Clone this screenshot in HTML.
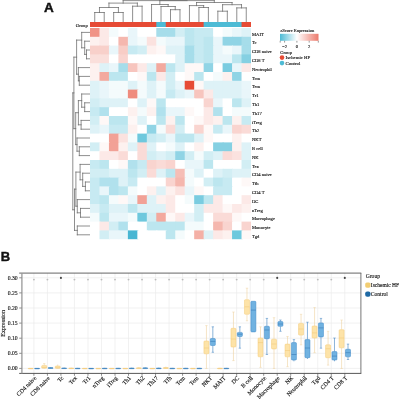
<!DOCTYPE html><html><head><meta charset="utf-8"><style>html,body{margin:0;padding:0;background:#fff;width:400px;height:399px;overflow:hidden}svg{display:block;filter:blur(0.5px)}text{font-family:"Liberation Serif",serif;fill:#111;stroke:#111;stroke-width:0.12px}.sans{font-family:"Liberation Sans",sans-serif}</style></head><body>
<svg width="400" height="399" viewBox="0 0 400 399">
<rect x="0" y="0" width="400" height="399" fill="#fff"/>
<text class="sans" x="44" y="12" font-size="13.5" font-weight="bold" style="stroke-width:0.45px">A</text>
<text class="sans" x="0.8" y="260.8" font-size="13" font-weight="bold" style="stroke-width:0.45px">B</text>
<rect x="90.00" y="28.00" width="10.47" height="9.80" fill="#f09386"/>
<rect x="99.47" y="28.00" width="10.47" height="9.80" fill="#fce9e7"/>
<rect x="108.94" y="28.00" width="10.47" height="9.80" fill="#f4fbfc"/>
<rect x="118.41" y="28.00" width="10.47" height="9.80" fill="#ffffff"/>
<rect x="127.88" y="28.00" width="10.47" height="9.80" fill="#e9f6fa"/>
<rect x="137.35" y="28.00" width="10.47" height="9.80" fill="#ffffff"/>
<rect x="146.82" y="28.00" width="10.47" height="9.80" fill="#ffffff"/>
<rect x="156.29" y="28.00" width="10.47" height="9.80" fill="#a6ddea"/>
<rect x="165.76" y="28.00" width="10.47" height="9.80" fill="#a6ddea"/>
<rect x="175.24" y="28.00" width="10.47" height="9.80" fill="#d2eef4"/>
<rect x="184.71" y="28.00" width="10.47" height="9.80" fill="#bce6ef"/>
<rect x="194.18" y="28.00" width="10.47" height="9.80" fill="#c7eaf2"/>
<rect x="203.65" y="28.00" width="10.47" height="9.80" fill="#c7eaf2"/>
<rect x="213.12" y="28.00" width="10.47" height="9.80" fill="#ffffff"/>
<rect x="222.59" y="28.00" width="10.47" height="9.80" fill="#f4fbfc"/>
<rect x="232.06" y="28.00" width="10.47" height="9.80" fill="#e9f6fa"/>
<rect x="241.53" y="28.00" width="9.47" height="9.80" fill="#def2f7"/>
<rect x="90.00" y="36.80" width="10.47" height="9.80" fill="#fdf1ef"/>
<rect x="99.47" y="36.80" width="10.47" height="9.80" fill="#fce9e7"/>
<rect x="108.94" y="36.80" width="10.47" height="9.80" fill="#ffffff"/>
<rect x="118.41" y="36.80" width="10.47" height="9.80" fill="#f5b7ae"/>
<rect x="127.88" y="36.80" width="10.47" height="9.80" fill="#e9f6fa"/>
<rect x="137.35" y="36.80" width="10.47" height="9.80" fill="#f4fbfc"/>
<rect x="146.82" y="36.80" width="10.47" height="9.80" fill="#fbe2df"/>
<rect x="156.29" y="36.80" width="10.47" height="9.80" fill="#f4fbfc"/>
<rect x="165.76" y="36.80" width="10.47" height="9.80" fill="#e9f6fa"/>
<rect x="175.24" y="36.80" width="10.47" height="9.80" fill="#e9f6fa"/>
<rect x="184.71" y="36.80" width="10.47" height="9.80" fill="#bce6ef"/>
<rect x="194.18" y="36.80" width="10.47" height="9.80" fill="#c7eaf2"/>
<rect x="203.65" y="36.80" width="10.47" height="9.80" fill="#bce6ef"/>
<rect x="213.12" y="36.80" width="10.47" height="9.80" fill="#e9f6fa"/>
<rect x="222.59" y="36.80" width="10.47" height="9.80" fill="#90d4e5"/>
<rect x="232.06" y="36.80" width="10.47" height="9.80" fill="#90d4e5"/>
<rect x="241.53" y="36.80" width="9.47" height="9.80" fill="#a6ddea"/>
<rect x="90.00" y="45.60" width="10.47" height="9.80" fill="#f8d0ca"/>
<rect x="99.47" y="45.60" width="10.47" height="9.80" fill="#f8d0ca"/>
<rect x="108.94" y="45.60" width="10.47" height="9.80" fill="#e9f6fa"/>
<rect x="118.41" y="45.60" width="10.47" height="9.80" fill="#f8cdc6"/>
<rect x="127.88" y="45.60" width="10.47" height="9.80" fill="#c7eaf2"/>
<rect x="137.35" y="45.60" width="10.47" height="9.80" fill="#d2eef4"/>
<rect x="146.82" y="45.60" width="10.47" height="9.80" fill="#fdf1ef"/>
<rect x="156.29" y="45.60" width="10.47" height="9.80" fill="#fef8f7"/>
<rect x="165.76" y="45.60" width="10.47" height="9.80" fill="#def2f7"/>
<rect x="175.24" y="45.60" width="10.47" height="9.80" fill="#def2f7"/>
<rect x="184.71" y="45.60" width="10.47" height="9.80" fill="#a6ddea"/>
<rect x="194.18" y="45.60" width="10.47" height="9.80" fill="#c7eaf2"/>
<rect x="203.65" y="45.60" width="10.47" height="9.80" fill="#bce6ef"/>
<rect x="213.12" y="45.60" width="10.47" height="9.80" fill="#e9f6fa"/>
<rect x="222.59" y="45.60" width="10.47" height="9.80" fill="#f4fbfc"/>
<rect x="232.06" y="45.60" width="10.47" height="9.80" fill="#e9f6fa"/>
<rect x="241.53" y="45.60" width="9.47" height="9.80" fill="#a6ddea"/>
<rect x="90.00" y="54.40" width="10.47" height="9.80" fill="#fadfdb"/>
<rect x="99.47" y="54.40" width="10.47" height="9.80" fill="#fadfdb"/>
<rect x="108.94" y="54.40" width="10.47" height="9.80" fill="#ffffff"/>
<rect x="118.41" y="54.40" width="10.47" height="9.80" fill="#f9d4cf"/>
<rect x="127.88" y="54.40" width="10.47" height="9.80" fill="#ffffff"/>
<rect x="137.35" y="54.40" width="10.47" height="9.80" fill="#ffffff"/>
<rect x="146.82" y="54.40" width="10.47" height="9.80" fill="#ffffff"/>
<rect x="156.29" y="54.40" width="10.47" height="9.80" fill="#ffffff"/>
<rect x="165.76" y="54.40" width="10.47" height="9.80" fill="#ffffff"/>
<rect x="175.24" y="54.40" width="10.47" height="9.80" fill="#def2f7"/>
<rect x="184.71" y="54.40" width="10.47" height="9.80" fill="#a6ddea"/>
<rect x="194.18" y="54.40" width="10.47" height="9.80" fill="#c7eaf2"/>
<rect x="203.65" y="54.40" width="10.47" height="9.80" fill="#bce6ef"/>
<rect x="213.12" y="54.40" width="10.47" height="9.80" fill="#e9f6fa"/>
<rect x="222.59" y="54.40" width="10.47" height="9.80" fill="#e9f6fa"/>
<rect x="232.06" y="54.40" width="10.47" height="9.80" fill="#bce6ef"/>
<rect x="241.53" y="54.40" width="9.47" height="9.80" fill="#85d0e2"/>
<rect x="90.00" y="63.20" width="10.47" height="9.80" fill="#fdf1ef"/>
<rect x="99.47" y="63.20" width="10.47" height="9.80" fill="#def2f7"/>
<rect x="108.94" y="63.20" width="10.47" height="9.80" fill="#e9f6fa"/>
<rect x="118.41" y="63.20" width="10.47" height="9.80" fill="#a6ddea"/>
<rect x="127.88" y="63.20" width="10.47" height="9.80" fill="#f7c5be"/>
<rect x="137.35" y="63.20" width="10.47" height="9.80" fill="#fce9e7"/>
<rect x="146.82" y="63.20" width="10.47" height="9.80" fill="#def2f7"/>
<rect x="156.29" y="63.20" width="10.47" height="9.80" fill="#f3a99e"/>
<rect x="165.76" y="63.20" width="10.47" height="9.80" fill="#bce6ef"/>
<rect x="175.24" y="63.20" width="10.47" height="9.80" fill="#def2f7"/>
<rect x="184.71" y="63.20" width="10.47" height="9.80" fill="#fef8f7"/>
<rect x="194.18" y="63.20" width="10.47" height="9.80" fill="#fef8f7"/>
<rect x="203.65" y="63.20" width="10.47" height="9.80" fill="#90d4e5"/>
<rect x="213.12" y="63.20" width="10.47" height="9.80" fill="#ffffff"/>
<rect x="222.59" y="63.20" width="10.47" height="9.80" fill="#7acce0"/>
<rect x="232.06" y="63.20" width="10.47" height="9.80" fill="#e9f6fa"/>
<rect x="241.53" y="63.20" width="9.47" height="9.80" fill="#fce9e7"/>
<rect x="90.00" y="72.00" width="10.47" height="9.80" fill="#fdf1ef"/>
<rect x="99.47" y="72.00" width="10.47" height="9.80" fill="#f3a99e"/>
<rect x="108.94" y="72.00" width="10.47" height="9.80" fill="#bce6ef"/>
<rect x="118.41" y="72.00" width="10.47" height="9.80" fill="#bce6ef"/>
<rect x="127.88" y="72.00" width="10.47" height="9.80" fill="#ffffff"/>
<rect x="137.35" y="72.00" width="10.47" height="9.80" fill="#fef8f7"/>
<rect x="146.82" y="72.00" width="10.47" height="9.80" fill="#bce6ef"/>
<rect x="156.29" y="72.00" width="10.47" height="9.80" fill="#fce9e7"/>
<rect x="165.76" y="72.00" width="10.47" height="9.80" fill="#d2eef4"/>
<rect x="175.24" y="72.00" width="10.47" height="9.80" fill="#ffffff"/>
<rect x="184.71" y="72.00" width="10.47" height="9.80" fill="#fef8f7"/>
<rect x="194.18" y="72.00" width="10.47" height="9.80" fill="#bce6ef"/>
<rect x="203.65" y="72.00" width="10.47" height="9.80" fill="#ffffff"/>
<rect x="213.12" y="72.00" width="10.47" height="9.80" fill="#f4fbfc"/>
<rect x="222.59" y="72.00" width="10.47" height="9.80" fill="#fdf1ef"/>
<rect x="232.06" y="72.00" width="10.47" height="9.80" fill="#90d4e5"/>
<rect x="241.53" y="72.00" width="9.47" height="9.80" fill="#ffffff"/>
<rect x="90.00" y="80.80" width="10.47" height="9.80" fill="#def2f7"/>
<rect x="99.47" y="80.80" width="10.47" height="9.80" fill="#e9f6fa"/>
<rect x="108.94" y="80.80" width="10.47" height="9.80" fill="#f4fbfc"/>
<rect x="118.41" y="80.80" width="10.47" height="9.80" fill="#f4fbfc"/>
<rect x="127.88" y="80.80" width="10.47" height="9.80" fill="#def2f7"/>
<rect x="137.35" y="80.80" width="10.47" height="9.80" fill="#f4fbfc"/>
<rect x="146.82" y="80.80" width="10.47" height="9.80" fill="#def2f7"/>
<rect x="156.29" y="80.80" width="10.47" height="9.80" fill="#f4fbfc"/>
<rect x="165.76" y="80.80" width="10.47" height="9.80" fill="#d2eef4"/>
<rect x="175.24" y="80.80" width="10.47" height="9.80" fill="#e9f6fa"/>
<rect x="184.71" y="80.80" width="10.47" height="9.80" fill="#e64b35"/>
<rect x="194.18" y="80.80" width="10.47" height="9.80" fill="#fef8f7"/>
<rect x="203.65" y="80.80" width="10.47" height="9.80" fill="#def2f7"/>
<rect x="213.12" y="80.80" width="10.47" height="9.80" fill="#def2f7"/>
<rect x="222.59" y="80.80" width="10.47" height="9.80" fill="#def2f7"/>
<rect x="232.06" y="80.80" width="10.47" height="9.80" fill="#def2f7"/>
<rect x="241.53" y="80.80" width="9.47" height="9.80" fill="#e9f6fa"/>
<rect x="90.00" y="89.60" width="10.47" height="9.80" fill="#def2f7"/>
<rect x="99.47" y="89.60" width="10.47" height="9.80" fill="#e9f6fa"/>
<rect x="108.94" y="89.60" width="10.47" height="9.80" fill="#f4fbfc"/>
<rect x="118.41" y="89.60" width="10.47" height="9.80" fill="#f4fbfc"/>
<rect x="127.88" y="89.60" width="10.47" height="9.80" fill="#ef8c7e"/>
<rect x="137.35" y="89.60" width="10.47" height="9.80" fill="#f4fbfc"/>
<rect x="146.82" y="89.60" width="10.47" height="9.80" fill="#def2f7"/>
<rect x="156.29" y="89.60" width="10.47" height="9.80" fill="#f4fbfc"/>
<rect x="165.76" y="89.60" width="10.47" height="9.80" fill="#c7eaf2"/>
<rect x="175.24" y="89.60" width="10.47" height="9.80" fill="#def2f7"/>
<rect x="184.71" y="89.60" width="10.47" height="9.80" fill="#e9f6fa"/>
<rect x="194.18" y="89.60" width="10.47" height="9.80" fill="#f7c5be"/>
<rect x="203.65" y="89.60" width="10.47" height="9.80" fill="#fce9e7"/>
<rect x="213.12" y="89.60" width="10.47" height="9.80" fill="#def2f7"/>
<rect x="222.59" y="89.60" width="10.47" height="9.80" fill="#def2f7"/>
<rect x="232.06" y="89.60" width="10.47" height="9.80" fill="#def2f7"/>
<rect x="241.53" y="89.60" width="9.47" height="9.80" fill="#e9f6fa"/>
<rect x="90.00" y="98.40" width="10.47" height="9.80" fill="#d2eef4"/>
<rect x="99.47" y="98.40" width="10.47" height="9.80" fill="#def2f7"/>
<rect x="108.94" y="98.40" width="10.47" height="9.80" fill="#def2f7"/>
<rect x="118.41" y="98.40" width="10.47" height="9.80" fill="#def2f7"/>
<rect x="127.88" y="98.40" width="10.47" height="9.80" fill="#ffffff"/>
<rect x="137.35" y="98.40" width="10.47" height="9.80" fill="#def2f7"/>
<rect x="146.82" y="98.40" width="10.47" height="9.80" fill="#fef8f7"/>
<rect x="156.29" y="98.40" width="10.47" height="9.80" fill="#bce6ef"/>
<rect x="165.76" y="98.40" width="10.47" height="9.80" fill="#ffffff"/>
<rect x="175.24" y="98.40" width="10.47" height="9.80" fill="#ffffff"/>
<rect x="184.71" y="98.40" width="10.47" height="9.80" fill="#ffffff"/>
<rect x="194.18" y="98.40" width="10.47" height="9.80" fill="#ffffff"/>
<rect x="203.65" y="98.40" width="10.47" height="9.80" fill="#f9d4cf"/>
<rect x="213.12" y="98.40" width="10.47" height="9.80" fill="#e9f6fa"/>
<rect x="222.59" y="98.40" width="10.47" height="9.80" fill="#ffffff"/>
<rect x="232.06" y="98.40" width="10.47" height="9.80" fill="#bce6ef"/>
<rect x="241.53" y="98.40" width="9.47" height="9.80" fill="#def2f7"/>
<rect x="90.00" y="107.20" width="10.47" height="9.80" fill="#c7eaf2"/>
<rect x="99.47" y="107.20" width="10.47" height="9.80" fill="#b1e1ed"/>
<rect x="108.94" y="107.20" width="10.47" height="9.80" fill="#ffffff"/>
<rect x="118.41" y="107.20" width="10.47" height="9.80" fill="#ffffff"/>
<rect x="127.88" y="107.20" width="10.47" height="9.80" fill="#fdf1ef"/>
<rect x="137.35" y="107.20" width="10.47" height="9.80" fill="#f4fbfc"/>
<rect x="146.82" y="107.20" width="10.47" height="9.80" fill="#fdf1ef"/>
<rect x="156.29" y="107.20" width="10.47" height="9.80" fill="#b1e1ed"/>
<rect x="165.76" y="107.20" width="10.47" height="9.80" fill="#e9f6fa"/>
<rect x="175.24" y="107.20" width="10.47" height="9.80" fill="#e9f6fa"/>
<rect x="184.71" y="107.20" width="10.47" height="9.80" fill="#fef8f7"/>
<rect x="194.18" y="107.20" width="10.47" height="9.80" fill="#ffffff"/>
<rect x="203.65" y="107.20" width="10.47" height="9.80" fill="#fce9e7"/>
<rect x="213.12" y="107.20" width="10.47" height="9.80" fill="#b1e1ed"/>
<rect x="222.59" y="107.20" width="10.47" height="9.80" fill="#ffffff"/>
<rect x="232.06" y="107.20" width="10.47" height="9.80" fill="#f4fbfc"/>
<rect x="241.53" y="107.20" width="9.47" height="9.80" fill="#f4fbfc"/>
<rect x="90.00" y="116.00" width="10.47" height="9.80" fill="#d2eef4"/>
<rect x="99.47" y="116.00" width="10.47" height="9.80" fill="#fef8f7"/>
<rect x="108.94" y="116.00" width="10.47" height="9.80" fill="#bce6ef"/>
<rect x="118.41" y="116.00" width="10.47" height="9.80" fill="#bce6ef"/>
<rect x="127.88" y="116.00" width="10.47" height="9.80" fill="#fef8f7"/>
<rect x="137.35" y="116.00" width="10.47" height="9.80" fill="#def2f7"/>
<rect x="146.82" y="116.00" width="10.47" height="9.80" fill="#ffffff"/>
<rect x="156.29" y="116.00" width="10.47" height="9.80" fill="#bce6ef"/>
<rect x="165.76" y="116.00" width="10.47" height="9.80" fill="#fdf1ef"/>
<rect x="175.24" y="116.00" width="10.47" height="9.80" fill="#bce6ef"/>
<rect x="184.71" y="116.00" width="10.47" height="9.80" fill="#ffffff"/>
<rect x="194.18" y="116.00" width="10.47" height="9.80" fill="#fef8f7"/>
<rect x="203.65" y="116.00" width="10.47" height="9.80" fill="#fce9e7"/>
<rect x="213.12" y="116.00" width="10.47" height="9.80" fill="#fdf1ef"/>
<rect x="222.59" y="116.00" width="10.47" height="9.80" fill="#bce6ef"/>
<rect x="232.06" y="116.00" width="10.47" height="9.80" fill="#fdf1ef"/>
<rect x="241.53" y="116.00" width="9.47" height="9.80" fill="#c7eaf2"/>
<rect x="90.00" y="124.80" width="10.47" height="9.80" fill="#def2f7"/>
<rect x="99.47" y="124.80" width="10.47" height="9.80" fill="#e9f6fa"/>
<rect x="108.94" y="124.80" width="10.47" height="9.80" fill="#c7eaf2"/>
<rect x="118.41" y="124.80" width="10.47" height="9.80" fill="#c7eaf2"/>
<rect x="127.88" y="124.80" width="10.47" height="9.80" fill="#fdf1ef"/>
<rect x="137.35" y="124.80" width="10.47" height="9.80" fill="#ffffff"/>
<rect x="146.82" y="124.80" width="10.47" height="9.80" fill="#90d4e5"/>
<rect x="156.29" y="124.80" width="10.47" height="9.80" fill="#f4fbfc"/>
<rect x="165.76" y="124.80" width="10.47" height="9.80" fill="#fadbd7"/>
<rect x="175.24" y="124.80" width="10.47" height="9.80" fill="#d2eef4"/>
<rect x="184.71" y="124.80" width="10.47" height="9.80" fill="#ffffff"/>
<rect x="194.18" y="124.80" width="10.47" height="9.80" fill="#f9d4cf"/>
<rect x="203.65" y="124.80" width="10.47" height="9.80" fill="#fef8f7"/>
<rect x="213.12" y="124.80" width="10.47" height="9.80" fill="#c7eaf2"/>
<rect x="222.59" y="124.80" width="10.47" height="9.80" fill="#e9f6fa"/>
<rect x="232.06" y="124.80" width="10.47" height="9.80" fill="#f9d4cf"/>
<rect x="241.53" y="124.80" width="9.47" height="9.80" fill="#fadbd7"/>
<rect x="90.00" y="133.60" width="10.47" height="9.80" fill="#ffffff"/>
<rect x="99.47" y="133.60" width="10.47" height="9.80" fill="#ffffff"/>
<rect x="108.94" y="133.60" width="10.47" height="9.80" fill="#f2a196"/>
<rect x="118.41" y="133.60" width="10.47" height="9.80" fill="#fbe2df"/>
<rect x="127.88" y="133.60" width="10.47" height="9.80" fill="#f4fbfc"/>
<rect x="137.35" y="133.60" width="10.47" height="9.80" fill="#6ec8dd"/>
<rect x="146.82" y="133.60" width="10.47" height="9.80" fill="#c7eaf2"/>
<rect x="156.29" y="133.60" width="10.47" height="9.80" fill="#d2eef4"/>
<rect x="165.76" y="133.60" width="10.47" height="9.80" fill="#e9f6fa"/>
<rect x="175.24" y="133.60" width="10.47" height="9.80" fill="#bce6ef"/>
<rect x="184.71" y="133.60" width="10.47" height="9.80" fill="#bce6ef"/>
<rect x="194.18" y="133.60" width="10.47" height="9.80" fill="#def2f7"/>
<rect x="203.65" y="133.60" width="10.47" height="9.80" fill="#fef8f7"/>
<rect x="213.12" y="133.60" width="10.47" height="9.80" fill="#ffffff"/>
<rect x="222.59" y="133.60" width="10.47" height="9.80" fill="#ffffff"/>
<rect x="232.06" y="133.60" width="10.47" height="9.80" fill="#fdf1ef"/>
<rect x="241.53" y="133.60" width="9.47" height="9.80" fill="#ffffff"/>
<rect x="90.00" y="142.40" width="10.47" height="9.80" fill="#d2eef4"/>
<rect x="99.47" y="142.40" width="10.47" height="9.80" fill="#fef8f7"/>
<rect x="108.94" y="142.40" width="10.47" height="9.80" fill="#f2a196"/>
<rect x="118.41" y="142.40" width="10.47" height="9.80" fill="#fdf1ef"/>
<rect x="127.88" y="142.40" width="10.47" height="9.80" fill="#def2f7"/>
<rect x="137.35" y="142.40" width="10.47" height="9.80" fill="#fadbd7"/>
<rect x="146.82" y="142.40" width="10.47" height="9.80" fill="#def2f7"/>
<rect x="156.29" y="142.40" width="10.47" height="9.80" fill="#ffffff"/>
<rect x="165.76" y="142.40" width="10.47" height="9.80" fill="#f4fbfc"/>
<rect x="175.24" y="142.40" width="10.47" height="9.80" fill="#def2f7"/>
<rect x="184.71" y="142.40" width="10.47" height="9.80" fill="#ffffff"/>
<rect x="194.18" y="142.40" width="10.47" height="9.80" fill="#fdf1ef"/>
<rect x="203.65" y="142.40" width="10.47" height="9.80" fill="#ffffff"/>
<rect x="213.12" y="142.40" width="10.47" height="9.80" fill="#85d0e2"/>
<rect x="222.59" y="142.40" width="10.47" height="9.80" fill="#85d0e2"/>
<rect x="232.06" y="142.40" width="10.47" height="9.80" fill="#fdf1ef"/>
<rect x="241.53" y="142.40" width="9.47" height="9.80" fill="#def2f7"/>
<rect x="90.00" y="151.20" width="10.47" height="9.80" fill="#ffffff"/>
<rect x="99.47" y="151.20" width="10.47" height="9.80" fill="#fce9e7"/>
<rect x="108.94" y="151.20" width="10.47" height="9.80" fill="#fce9e7"/>
<rect x="118.41" y="151.20" width="10.47" height="9.80" fill="#fadbd7"/>
<rect x="127.88" y="151.20" width="10.47" height="9.80" fill="#ffffff"/>
<rect x="137.35" y="151.20" width="10.47" height="9.80" fill="#fadbd7"/>
<rect x="146.82" y="151.20" width="10.47" height="9.80" fill="#d2eef4"/>
<rect x="156.29" y="151.20" width="10.47" height="9.80" fill="#def2f7"/>
<rect x="165.76" y="151.20" width="10.47" height="9.80" fill="#d2eef4"/>
<rect x="175.24" y="151.20" width="10.47" height="9.80" fill="#90d4e5"/>
<rect x="184.71" y="151.20" width="10.47" height="9.80" fill="#d2eef4"/>
<rect x="194.18" y="151.20" width="10.47" height="9.80" fill="#f4fbfc"/>
<rect x="203.65" y="151.20" width="10.47" height="9.80" fill="#d2eef4"/>
<rect x="213.12" y="151.20" width="10.47" height="9.80" fill="#def2f7"/>
<rect x="222.59" y="151.20" width="10.47" height="9.80" fill="#fadbd7"/>
<rect x="232.06" y="151.20" width="10.47" height="9.80" fill="#fbe2df"/>
<rect x="241.53" y="151.20" width="9.47" height="9.80" fill="#def2f7"/>
<rect x="90.00" y="160.00" width="10.47" height="9.80" fill="#c7eaf2"/>
<rect x="99.47" y="160.00" width="10.47" height="9.80" fill="#bce6ef"/>
<rect x="108.94" y="160.00" width="10.47" height="9.80" fill="#ffffff"/>
<rect x="118.41" y="160.00" width="10.47" height="9.80" fill="#fef8f7"/>
<rect x="127.88" y="160.00" width="10.47" height="9.80" fill="#b1e1ed"/>
<rect x="137.35" y="160.00" width="10.47" height="9.80" fill="#c7eaf2"/>
<rect x="146.82" y="160.00" width="10.47" height="9.80" fill="#f9d4cf"/>
<rect x="156.29" y="160.00" width="10.47" height="9.80" fill="#fadbd7"/>
<rect x="165.76" y="160.00" width="10.47" height="9.80" fill="#f9d4cf"/>
<rect x="175.24" y="160.00" width="10.47" height="9.80" fill="#ffffff"/>
<rect x="184.71" y="160.00" width="10.47" height="9.80" fill="#e9f6fa"/>
<rect x="194.18" y="160.00" width="10.47" height="9.80" fill="#e9f6fa"/>
<rect x="203.65" y="160.00" width="10.47" height="9.80" fill="#bce6ef"/>
<rect x="213.12" y="160.00" width="10.47" height="9.80" fill="#ffffff"/>
<rect x="222.59" y="160.00" width="10.47" height="9.80" fill="#ffffff"/>
<rect x="232.06" y="160.00" width="10.47" height="9.80" fill="#ffffff"/>
<rect x="241.53" y="160.00" width="9.47" height="9.80" fill="#d2eef4"/>
<rect x="90.00" y="168.80" width="10.47" height="9.80" fill="#d2eef4"/>
<rect x="99.47" y="168.80" width="10.47" height="9.80" fill="#d2eef4"/>
<rect x="108.94" y="168.80" width="10.47" height="9.80" fill="#def2f7"/>
<rect x="118.41" y="168.80" width="10.47" height="9.80" fill="#def2f7"/>
<rect x="127.88" y="168.80" width="10.47" height="9.80" fill="#bce6ef"/>
<rect x="137.35" y="168.80" width="10.47" height="9.80" fill="#d2eef4"/>
<rect x="146.82" y="168.80" width="10.47" height="9.80" fill="#fadbd7"/>
<rect x="156.29" y="168.80" width="10.47" height="9.80" fill="#def2f7"/>
<rect x="165.76" y="168.80" width="10.47" height="9.80" fill="#bce6ef"/>
<rect x="175.24" y="168.80" width="10.47" height="9.80" fill="#f6beb6"/>
<rect x="184.71" y="168.80" width="10.47" height="9.80" fill="#f4fbfc"/>
<rect x="194.18" y="168.80" width="10.47" height="9.80" fill="#def2f7"/>
<rect x="203.65" y="168.80" width="10.47" height="9.80" fill="#ffffff"/>
<rect x="213.12" y="168.80" width="10.47" height="9.80" fill="#def2f7"/>
<rect x="222.59" y="168.80" width="10.47" height="9.80" fill="#d2eef4"/>
<rect x="232.06" y="168.80" width="10.47" height="9.80" fill="#def2f7"/>
<rect x="241.53" y="168.80" width="9.47" height="9.80" fill="#def2f7"/>
<rect x="90.00" y="177.60" width="10.47" height="9.80" fill="#c7eaf2"/>
<rect x="99.47" y="177.60" width="10.47" height="9.80" fill="#b1e1ed"/>
<rect x="108.94" y="177.60" width="10.47" height="9.80" fill="#b1e1ed"/>
<rect x="118.41" y="177.60" width="10.47" height="9.80" fill="#def2f7"/>
<rect x="127.88" y="177.60" width="10.47" height="9.80" fill="#c7eaf2"/>
<rect x="137.35" y="177.60" width="10.47" height="9.80" fill="#ffffff"/>
<rect x="146.82" y="177.60" width="10.47" height="9.80" fill="#ffffff"/>
<rect x="156.29" y="177.60" width="10.47" height="9.80" fill="#ffffff"/>
<rect x="165.76" y="177.60" width="10.47" height="9.80" fill="#f9d4cf"/>
<rect x="175.24" y="177.60" width="10.47" height="9.80" fill="#f5b7ae"/>
<rect x="184.71" y="177.60" width="10.47" height="9.80" fill="#f4fbfc"/>
<rect x="194.18" y="177.60" width="10.47" height="9.80" fill="#ffffff"/>
<rect x="203.65" y="177.60" width="10.47" height="9.80" fill="#d2eef4"/>
<rect x="213.12" y="177.60" width="10.47" height="9.80" fill="#bce6ef"/>
<rect x="222.59" y="177.60" width="10.47" height="9.80" fill="#c7eaf2"/>
<rect x="232.06" y="177.60" width="10.47" height="9.80" fill="#ffffff"/>
<rect x="241.53" y="177.60" width="9.47" height="9.80" fill="#fef8f7"/>
<rect x="90.00" y="186.40" width="10.47" height="9.80" fill="#c7eaf2"/>
<rect x="99.47" y="186.40" width="10.47" height="9.80" fill="#e9f6fa"/>
<rect x="108.94" y="186.40" width="10.47" height="9.80" fill="#b1e1ed"/>
<rect x="118.41" y="186.40" width="10.47" height="9.80" fill="#bce6ef"/>
<rect x="127.88" y="186.40" width="10.47" height="9.80" fill="#f4fbfc"/>
<rect x="137.35" y="186.40" width="10.47" height="9.80" fill="#ffffff"/>
<rect x="146.82" y="186.40" width="10.47" height="9.80" fill="#fdf1ef"/>
<rect x="156.29" y="186.40" width="10.47" height="9.80" fill="#def2f7"/>
<rect x="165.76" y="186.40" width="10.47" height="9.80" fill="#fdf1ef"/>
<rect x="175.24" y="186.40" width="10.47" height="9.80" fill="#fbe2df"/>
<rect x="184.71" y="186.40" width="10.47" height="9.80" fill="#e9f6fa"/>
<rect x="194.18" y="186.40" width="10.47" height="9.80" fill="#fef8f7"/>
<rect x="203.65" y="186.40" width="10.47" height="9.80" fill="#ffffff"/>
<rect x="213.12" y="186.40" width="10.47" height="9.80" fill="#c7eaf2"/>
<rect x="222.59" y="186.40" width="10.47" height="9.80" fill="#c7eaf2"/>
<rect x="232.06" y="186.40" width="10.47" height="9.80" fill="#ffffff"/>
<rect x="241.53" y="186.40" width="9.47" height="9.80" fill="#ffffff"/>
<rect x="90.00" y="195.20" width="10.47" height="9.80" fill="#c7eaf2"/>
<rect x="99.47" y="195.20" width="10.47" height="9.80" fill="#bce6ef"/>
<rect x="108.94" y="195.20" width="10.47" height="9.80" fill="#f4fbfc"/>
<rect x="118.41" y="195.20" width="10.47" height="9.80" fill="#fef8f7"/>
<rect x="127.88" y="195.20" width="10.47" height="9.80" fill="#e9f6fa"/>
<rect x="137.35" y="195.20" width="10.47" height="9.80" fill="#f2a196"/>
<rect x="146.82" y="195.20" width="10.47" height="9.80" fill="#def2f7"/>
<rect x="156.29" y="195.20" width="10.47" height="9.80" fill="#fdf1ef"/>
<rect x="165.76" y="195.20" width="10.47" height="9.80" fill="#fce9e7"/>
<rect x="175.24" y="195.20" width="10.47" height="9.80" fill="#ffffff"/>
<rect x="184.71" y="195.20" width="10.47" height="9.80" fill="#f4fbfc"/>
<rect x="194.18" y="195.20" width="10.47" height="9.80" fill="#7acce0"/>
<rect x="203.65" y="195.20" width="10.47" height="9.80" fill="#bce6ef"/>
<rect x="213.12" y="195.20" width="10.47" height="9.80" fill="#fce9e7"/>
<rect x="222.59" y="195.20" width="10.47" height="9.80" fill="#ffffff"/>
<rect x="232.06" y="195.20" width="10.47" height="9.80" fill="#ffffff"/>
<rect x="241.53" y="195.20" width="9.47" height="9.80" fill="#fce9e7"/>
<rect x="90.00" y="204.00" width="10.47" height="9.80" fill="#def2f7"/>
<rect x="99.47" y="204.00" width="10.47" height="9.80" fill="#c7eaf2"/>
<rect x="108.94" y="204.00" width="10.47" height="9.80" fill="#def2f7"/>
<rect x="118.41" y="204.00" width="10.47" height="9.80" fill="#def2f7"/>
<rect x="127.88" y="204.00" width="10.47" height="9.80" fill="#bce6ef"/>
<rect x="137.35" y="204.00" width="10.47" height="9.80" fill="#def2f7"/>
<rect x="146.82" y="204.00" width="10.47" height="9.80" fill="#def2f7"/>
<rect x="156.29" y="204.00" width="10.47" height="9.80" fill="#def2f7"/>
<rect x="165.76" y="204.00" width="10.47" height="9.80" fill="#fce9e7"/>
<rect x="175.24" y="204.00" width="10.47" height="9.80" fill="#ffffff"/>
<rect x="184.71" y="204.00" width="10.47" height="9.80" fill="#ffffff"/>
<rect x="194.18" y="204.00" width="10.47" height="9.80" fill="#d2eef4"/>
<rect x="203.65" y="204.00" width="10.47" height="9.80" fill="#fce9e7"/>
<rect x="213.12" y="204.00" width="10.47" height="9.80" fill="#fce9e7"/>
<rect x="222.59" y="204.00" width="10.47" height="9.80" fill="#fef8f7"/>
<rect x="232.06" y="204.00" width="10.47" height="9.80" fill="#fce9e7"/>
<rect x="241.53" y="204.00" width="9.47" height="9.80" fill="#fdf1ef"/>
<rect x="90.00" y="212.80" width="10.47" height="9.80" fill="#f4fbfc"/>
<rect x="99.47" y="212.80" width="10.47" height="9.80" fill="#bce6ef"/>
<rect x="108.94" y="212.80" width="10.47" height="9.80" fill="#e9f6fa"/>
<rect x="118.41" y="212.80" width="10.47" height="9.80" fill="#e9f6fa"/>
<rect x="127.88" y="212.80" width="10.47" height="9.80" fill="#f4fbfc"/>
<rect x="137.35" y="212.80" width="10.47" height="9.80" fill="#6ec8dd"/>
<rect x="146.82" y="212.80" width="10.47" height="9.80" fill="#d2eef4"/>
<rect x="156.29" y="212.80" width="10.47" height="9.80" fill="#f3a99e"/>
<rect x="165.76" y="212.80" width="10.47" height="9.80" fill="#fef8f7"/>
<rect x="175.24" y="212.80" width="10.47" height="9.80" fill="#fce9e7"/>
<rect x="184.71" y="212.80" width="10.47" height="9.80" fill="#e9f6fa"/>
<rect x="194.18" y="212.80" width="10.47" height="9.80" fill="#d2eef4"/>
<rect x="203.65" y="212.80" width="10.47" height="9.80" fill="#ffffff"/>
<rect x="213.12" y="212.80" width="10.47" height="9.80" fill="#fadbd7"/>
<rect x="222.59" y="212.80" width="10.47" height="9.80" fill="#fadbd7"/>
<rect x="232.06" y="212.80" width="10.47" height="9.80" fill="#fef8f7"/>
<rect x="241.53" y="212.80" width="9.47" height="9.80" fill="#ffffff"/>
<rect x="90.00" y="221.60" width="10.47" height="9.80" fill="#ffffff"/>
<rect x="99.47" y="221.60" width="10.47" height="9.80" fill="#fce9e7"/>
<rect x="108.94" y="221.60" width="10.47" height="9.80" fill="#d2eef4"/>
<rect x="118.41" y="221.60" width="10.47" height="9.80" fill="#b1e1ed"/>
<rect x="127.88" y="221.60" width="10.47" height="9.80" fill="#ffffff"/>
<rect x="137.35" y="221.60" width="10.47" height="9.80" fill="#ffffff"/>
<rect x="146.82" y="221.60" width="10.47" height="9.80" fill="#bce6ef"/>
<rect x="156.29" y="221.60" width="10.47" height="9.80" fill="#bce6ef"/>
<rect x="165.76" y="221.60" width="10.47" height="9.80" fill="#bce6ef"/>
<rect x="175.24" y="221.60" width="10.47" height="9.80" fill="#bce6ef"/>
<rect x="184.71" y="221.60" width="10.47" height="9.80" fill="#f4fbfc"/>
<rect x="194.18" y="221.60" width="10.47" height="9.80" fill="#f4fbfc"/>
<rect x="203.65" y="221.60" width="10.47" height="9.80" fill="#ffffff"/>
<rect x="213.12" y="221.60" width="10.47" height="9.80" fill="#f5b7ae"/>
<rect x="222.59" y="221.60" width="10.47" height="9.80" fill="#f9d4cf"/>
<rect x="232.06" y="221.60" width="10.47" height="9.80" fill="#ffffff"/>
<rect x="241.53" y="221.60" width="9.47" height="9.80" fill="#f9d4cf"/>
<rect x="90.00" y="230.40" width="10.47" height="8.80" fill="#ffffff"/>
<rect x="99.47" y="230.40" width="10.47" height="8.80" fill="#d2eef4"/>
<rect x="108.94" y="230.40" width="10.47" height="8.80" fill="#e9f6fa"/>
<rect x="118.41" y="230.40" width="10.47" height="8.80" fill="#e9f6fa"/>
<rect x="127.88" y="230.40" width="10.47" height="8.80" fill="#48b6d3"/>
<rect x="137.35" y="230.40" width="10.47" height="8.80" fill="#ffffff"/>
<rect x="146.82" y="230.40" width="10.47" height="8.80" fill="#ffffff"/>
<rect x="156.29" y="230.40" width="10.47" height="8.80" fill="#ffffff"/>
<rect x="165.76" y="230.40" width="10.47" height="8.80" fill="#bce6ef"/>
<rect x="175.24" y="230.40" width="10.47" height="8.80" fill="#f4fbfc"/>
<rect x="184.71" y="230.40" width="10.47" height="8.80" fill="#ffffff"/>
<rect x="194.18" y="230.40" width="10.47" height="8.80" fill="#f4b0a6"/>
<rect x="203.65" y="230.40" width="10.47" height="8.80" fill="#def2f7"/>
<rect x="213.12" y="230.40" width="10.47" height="8.80" fill="#fce9e7"/>
<rect x="222.59" y="230.40" width="10.47" height="8.80" fill="#fdf1ef"/>
<rect x="232.06" y="230.40" width="10.47" height="8.80" fill="#6ec8dd"/>
<rect x="241.53" y="230.40" width="9.47" height="8.80" fill="#fef8f7"/>
<rect x="90.00" y="22" width="10.47" height="5" fill="#E64B35"/>
<rect x="99.47" y="22" width="10.47" height="5" fill="#E64B35"/>
<rect x="108.94" y="22" width="10.47" height="5" fill="#E64B35"/>
<rect x="118.41" y="22" width="10.47" height="5" fill="#E64B35"/>
<rect x="127.88" y="22" width="10.47" height="5" fill="#E64B35"/>
<rect x="137.35" y="22" width="10.47" height="5" fill="#E64B35"/>
<rect x="146.82" y="22" width="10.47" height="5" fill="#E64B35"/>
<rect x="156.29" y="22" width="10.47" height="5" fill="#4DBBD5"/>
<rect x="165.76" y="22" width="10.47" height="5" fill="#E64B35"/>
<rect x="175.24" y="22" width="10.47" height="5" fill="#E64B35"/>
<rect x="184.71" y="22" width="10.47" height="5" fill="#E64B35"/>
<rect x="194.18" y="22" width="10.47" height="5" fill="#E64B35"/>
<rect x="203.65" y="22" width="10.47" height="5" fill="#4DBBD5"/>
<rect x="213.12" y="22" width="10.47" height="5" fill="#4DBBD5"/>
<rect x="222.59" y="22" width="10.47" height="5" fill="#4DBBD5"/>
<rect x="232.06" y="22" width="10.47" height="5" fill="#4DBBD5"/>
<rect x="241.53" y="22" width="9.47" height="5" fill="#E64B35"/>
<text x="87.8" y="26.7" font-size="4.7" text-anchor="end" fill="#111" stroke="#111" stroke-width="0.12">Group</text>
<text x="252" y="35.70" font-size="4.6" fill="#2a2a2a" transform="translate(0,35.70) scale(1,1.04) translate(0,-35.70)">MAIT</text>
<text x="252" y="44.50" font-size="4.6" fill="#2a2a2a" transform="translate(0,44.50) scale(1,1.04) translate(0,-44.50)">Tc</text>
<text x="252" y="53.30" font-size="4.6" fill="#2a2a2a" transform="translate(0,53.30) scale(1,1.04) translate(0,-53.30)">CD8 naive</text>
<text x="252" y="62.10" font-size="4.6" fill="#2a2a2a" transform="translate(0,62.10) scale(1,1.04) translate(0,-62.10)">CD8 T</text>
<text x="252" y="70.90" font-size="4.6" fill="#2a2a2a" transform="translate(0,70.90) scale(1,1.04) translate(0,-70.90)">Neutrophil</text>
<text x="252" y="79.70" font-size="4.6" fill="#2a2a2a" transform="translate(0,79.70) scale(1,1.04) translate(0,-79.70)">Tcm</text>
<text x="252" y="88.50" font-size="4.6" fill="#2a2a2a" transform="translate(0,88.50) scale(1,1.04) translate(0,-88.50)">Tem</text>
<text x="252" y="97.30" font-size="4.6" fill="#2a2a2a" transform="translate(0,97.30) scale(1,1.04) translate(0,-97.30)">Tr1</text>
<text x="252" y="106.10" font-size="4.6" fill="#2a2a2a" transform="translate(0,106.10) scale(1,1.04) translate(0,-106.10)">Th1</text>
<text x="252" y="114.90" font-size="4.6" fill="#2a2a2a" transform="translate(0,114.90) scale(1,1.04) translate(0,-114.90)">Th17</text>
<text x="252" y="123.70" font-size="4.6" fill="#2a2a2a" transform="translate(0,123.70) scale(1,1.04) translate(0,-123.70)">iTreg</text>
<text x="252" y="132.50" font-size="4.6" fill="#2a2a2a" transform="translate(0,132.50) scale(1,1.04) translate(0,-132.50)">Th2</text>
<text x="252" y="141.30" font-size="4.6" fill="#2a2a2a" transform="translate(0,141.30) scale(1,1.04) translate(0,-141.30)">NKT</text>
<text x="252" y="150.10" font-size="4.6" fill="#2a2a2a" transform="translate(0,150.10) scale(1,1.04) translate(0,-150.10)">B cell</text>
<text x="252" y="158.90" font-size="4.6" fill="#2a2a2a" transform="translate(0,158.90) scale(1,1.04) translate(0,-158.90)">NK</text>
<text x="252" y="167.70" font-size="4.6" fill="#2a2a2a" transform="translate(0,167.70) scale(1,1.04) translate(0,-167.70)">Tex</text>
<text x="252" y="176.50" font-size="4.6" fill="#2a2a2a" transform="translate(0,176.50) scale(1,1.04) translate(0,-176.50)">CD4 naive</text>
<text x="252" y="185.30" font-size="4.6" fill="#2a2a2a" transform="translate(0,185.30) scale(1,1.04) translate(0,-185.30)">Tfh</text>
<text x="252" y="194.10" font-size="4.6" fill="#2a2a2a" transform="translate(0,194.10) scale(1,1.04) translate(0,-194.10)">CD4 T</text>
<text x="252" y="202.90" font-size="4.6" fill="#2a2a2a" transform="translate(0,202.90) scale(1,1.04) translate(0,-202.90)">DC</text>
<text x="252" y="211.70" font-size="4.6" fill="#2a2a2a" transform="translate(0,211.70) scale(1,1.04) translate(0,-211.70)">nTreg</text>
<text x="252" y="220.50" font-size="4.6" fill="#2a2a2a" transform="translate(0,220.50) scale(1,1.04) translate(0,-220.50)">Macrophage</text>
<text x="252" y="229.30" font-size="4.6" fill="#2a2a2a" transform="translate(0,229.30) scale(1,1.04) translate(0,-229.30)">Monocyte</text>
<text x="252" y="238.10" font-size="4.6" fill="#2a2a2a" transform="translate(0,238.10) scale(1,1.04) translate(0,-238.10)">Tgd</text>
<g stroke="#6a6a6a" stroke-width="0.75" fill="none" stroke-linecap="square">
<line x1="94.74" y1="21.50" x2="94.74" y2="12.50"/>
<line x1="104.21" y1="21.50" x2="104.21" y2="12.50"/>
<line x1="94.74" y1="12.50" x2="104.21" y2="12.50"/>
<line x1="113.68" y1="21.50" x2="113.68" y2="12.50"/>
<line x1="123.15" y1="21.50" x2="123.15" y2="12.50"/>
<line x1="113.68" y1="12.50" x2="123.15" y2="12.50"/>
<line x1="99.47" y1="12.50" x2="99.47" y2="7.50"/>
<line x1="118.41" y1="12.50" x2="118.41" y2="7.50"/>
<line x1="99.47" y1="7.50" x2="118.41" y2="7.50"/>
<line x1="132.62" y1="21.50" x2="132.62" y2="6.20"/>
<line x1="142.09" y1="21.50" x2="142.09" y2="6.20"/>
<line x1="132.62" y1="6.20" x2="142.09" y2="6.20"/>
<line x1="108.94" y1="7.50" x2="108.94" y2="3.10"/>
<line x1="137.35" y1="6.20" x2="137.35" y2="3.10"/>
<line x1="108.94" y1="3.10" x2="137.35" y2="3.10"/>
<line x1="170.50" y1="21.50" x2="170.50" y2="9.70"/>
<line x1="179.97" y1="21.50" x2="179.97" y2="9.70"/>
<line x1="170.50" y1="9.70" x2="179.97" y2="9.70"/>
<line x1="161.03" y1="21.50" x2="161.03" y2="6.50"/>
<line x1="175.24" y1="9.70" x2="175.24" y2="6.50"/>
<line x1="161.03" y1="6.50" x2="175.24" y2="6.50"/>
<line x1="151.56" y1="21.50" x2="151.56" y2="4.50"/>
<line x1="168.13" y1="6.50" x2="168.13" y2="4.50"/>
<line x1="151.56" y1="4.50" x2="168.13" y2="4.50"/>
<line x1="198.91" y1="21.50" x2="198.91" y2="7.50"/>
<line x1="208.38" y1="21.50" x2="208.38" y2="7.50"/>
<line x1="198.91" y1="7.50" x2="208.38" y2="7.50"/>
<line x1="189.44" y1="21.50" x2="189.44" y2="5.60"/>
<line x1="203.65" y1="7.50" x2="203.65" y2="5.60"/>
<line x1="189.44" y1="5.60" x2="203.65" y2="5.60"/>
<line x1="217.85" y1="21.50" x2="217.85" y2="11.20"/>
<line x1="227.32" y1="21.50" x2="227.32" y2="11.20"/>
<line x1="217.85" y1="11.20" x2="227.32" y2="11.20"/>
<line x1="236.79" y1="21.50" x2="236.79" y2="7.90"/>
<line x1="246.26" y1="21.50" x2="246.26" y2="7.90"/>
<line x1="236.79" y1="7.90" x2="246.26" y2="7.90"/>
<line x1="222.59" y1="11.20" x2="222.59" y2="4.70"/>
<line x1="241.53" y1="7.90" x2="241.53" y2="4.70"/>
<line x1="222.59" y1="4.70" x2="241.53" y2="4.70"/>
<line x1="196.54" y1="5.60" x2="196.54" y2="2.50"/>
<line x1="232.06" y1="4.70" x2="232.06" y2="2.50"/>
<line x1="196.54" y1="2.50" x2="232.06" y2="2.50"/>
<line x1="159.85" y1="4.50" x2="159.85" y2="0.60"/>
<line x1="214.30" y1="2.50" x2="214.30" y2="0.60"/>
<line x1="159.85" y1="0.60" x2="214.30" y2="0.60"/>
<line x1="123.15" y1="3.10" x2="123.15" y2="0.60"/>
<line x1="123.15" y1="0.60" x2="187.07" y2="0.60"/>
<line x1="89.50" y1="50.00" x2="86.50" y2="50.00"/>
<line x1="89.50" y1="58.80" x2="86.50" y2="58.80"/>
<line x1="86.50" y1="50.00" x2="86.50" y2="58.80"/>
<line x1="89.50" y1="41.20" x2="84.70" y2="41.20"/>
<line x1="86.50" y1="54.40" x2="84.70" y2="54.40"/>
<line x1="84.70" y1="41.20" x2="84.70" y2="54.40"/>
<line x1="89.50" y1="32.40" x2="81.70" y2="32.40"/>
<line x1="84.70" y1="47.80" x2="81.70" y2="47.80"/>
<line x1="81.70" y1="32.40" x2="81.70" y2="47.80"/>
<line x1="89.50" y1="76.40" x2="79.30" y2="76.40"/>
<line x1="89.50" y1="85.20" x2="79.30" y2="85.20"/>
<line x1="79.30" y1="76.40" x2="79.30" y2="85.20"/>
<line x1="89.50" y1="67.60" x2="78.40" y2="67.60"/>
<line x1="79.30" y1="80.80" x2="78.40" y2="80.80"/>
<line x1="78.40" y1="67.60" x2="78.40" y2="80.80"/>
<line x1="81.70" y1="40.10" x2="76.60" y2="40.10"/>
<line x1="78.40" y1="74.20" x2="76.60" y2="74.20"/>
<line x1="76.60" y1="40.10" x2="76.60" y2="74.20"/>
<line x1="89.50" y1="102.80" x2="84.70" y2="102.80"/>
<line x1="89.50" y1="111.60" x2="84.70" y2="111.60"/>
<line x1="84.70" y1="102.80" x2="84.70" y2="111.60"/>
<line x1="89.50" y1="94.00" x2="81.70" y2="94.00"/>
<line x1="84.70" y1="107.20" x2="81.70" y2="107.20"/>
<line x1="81.70" y1="94.00" x2="81.70" y2="107.20"/>
<line x1="89.50" y1="120.40" x2="81.10" y2="120.40"/>
<line x1="89.50" y1="129.20" x2="81.10" y2="129.20"/>
<line x1="81.10" y1="120.40" x2="81.10" y2="129.20"/>
<line x1="81.70" y1="100.60" x2="78.40" y2="100.60"/>
<line x1="81.10" y1="124.80" x2="78.40" y2="124.80"/>
<line x1="78.40" y1="100.60" x2="78.40" y2="124.80"/>
<line x1="89.50" y1="146.80" x2="79.30" y2="146.80"/>
<line x1="89.50" y1="155.60" x2="79.30" y2="155.60"/>
<line x1="79.30" y1="146.80" x2="79.30" y2="155.60"/>
<line x1="89.50" y1="138.00" x2="77.00" y2="138.00"/>
<line x1="79.30" y1="151.20" x2="77.00" y2="151.20"/>
<line x1="77.00" y1="138.00" x2="77.00" y2="151.20"/>
<line x1="78.40" y1="112.70" x2="75.70" y2="112.70"/>
<line x1="77.00" y1="144.60" x2="75.70" y2="144.60"/>
<line x1="75.70" y1="112.70" x2="75.70" y2="144.60"/>
<line x1="76.60" y1="57.15" x2="73.90" y2="57.15"/>
<line x1="75.70" y1="128.65" x2="73.90" y2="128.65"/>
<line x1="73.90" y1="57.15" x2="73.90" y2="128.65"/>
<line x1="89.50" y1="182.00" x2="85.40" y2="182.00"/>
<line x1="89.50" y1="190.80" x2="85.40" y2="190.80"/>
<line x1="85.40" y1="182.00" x2="85.40" y2="190.80"/>
<line x1="89.50" y1="173.20" x2="82.70" y2="173.20"/>
<line x1="85.40" y1="186.40" x2="82.70" y2="186.40"/>
<line x1="82.70" y1="173.20" x2="82.70" y2="186.40"/>
<line x1="89.50" y1="164.40" x2="80.10" y2="164.40"/>
<line x1="82.70" y1="179.80" x2="80.10" y2="179.80"/>
<line x1="80.10" y1="164.40" x2="80.10" y2="179.80"/>
<line x1="89.50" y1="208.40" x2="80.50" y2="208.40"/>
<line x1="89.50" y1="217.20" x2="80.50" y2="217.20"/>
<line x1="80.50" y1="208.40" x2="80.50" y2="217.20"/>
<line x1="89.50" y1="199.60" x2="77.30" y2="199.60"/>
<line x1="80.50" y1="212.80" x2="77.30" y2="212.80"/>
<line x1="77.30" y1="199.60" x2="77.30" y2="212.80"/>
<line x1="80.10" y1="172.10" x2="75.90" y2="172.10"/>
<line x1="77.30" y1="206.20" x2="75.90" y2="206.20"/>
<line x1="75.90" y1="172.10" x2="75.90" y2="206.20"/>
<line x1="89.50" y1="226.00" x2="77.30" y2="226.00"/>
<line x1="89.50" y1="234.80" x2="77.30" y2="234.80"/>
<line x1="77.30" y1="226.00" x2="77.30" y2="234.80"/>
<line x1="75.90" y1="189.15" x2="74.50" y2="189.15"/>
<line x1="77.30" y1="230.40" x2="74.50" y2="230.40"/>
<line x1="74.50" y1="189.15" x2="74.50" y2="230.40"/>
<line x1="73.90" y1="92.90" x2="72.80" y2="92.90"/>
<line x1="74.50" y1="209.77" x2="72.80" y2="209.77"/>
<line x1="72.80" y1="92.90" x2="72.80" y2="209.77"/>
</g>
<text x="280.2" y="32.4" font-size="4.6" >zScore Expression</text>
<defs><linearGradient id="lg" x1="0" x2="1" y1="0" y2="0"><stop offset="0" stop-color="#4DBBD5"/><stop offset="0.44" stop-color="#ffffff"/><stop offset="1" stop-color="#ec7a6c"/></linearGradient></defs>
<rect x="280" y="33.8" width="38.5" height="7" fill="url(#lg)"/>
<g stroke="#333" stroke-width="0.5">
<line x1="280.2" y1="40.8" x2="280.2" y2="42.6"/>
<line x1="284.6" y1="40.8" x2="284.6" y2="42.6"/>
<line x1="296.9" y1="40.8" x2="296.9" y2="42.6"/>
<line x1="309.2" y1="40.8" x2="309.2" y2="42.6"/>
<line x1="318.3" y1="40.8" x2="318.3" y2="42.6"/>
</g>
<text x="284.6" y="48.4" font-size="4.6" text-anchor="middle" >−2</text>
<text x="296.9" y="48.4" font-size="4.6" text-anchor="middle" >0</text>
<text x="309.2" y="48.4" font-size="4.6" text-anchor="middle" >2</text>
<text x="280.2" y="54" font-size="4.6" >Group</text>
<circle cx="282" cy="57.6" r="2.3" fill="#E64B35"/>
<text x="285.6" y="59.2" font-size="4.8" >Ischemic HF</text>
<circle cx="282" cy="63.1" r="2.3" fill="#4DBBD5"/>
<text x="285.6" y="64.7" font-size="4.8" >Control</text>
<g stroke="#ebebeb" stroke-width="0.7">
<line x1="21.0" y1="368.40" x2="361.0" y2="368.40"/>
<line x1="21.0" y1="353.30" x2="361.0" y2="353.30"/>
<line x1="21.0" y1="338.20" x2="361.0" y2="338.20"/>
<line x1="21.0" y1="323.10" x2="361.0" y2="323.10"/>
<line x1="21.0" y1="308.00" x2="361.0" y2="308.00"/>
<line x1="21.0" y1="292.90" x2="361.0" y2="292.90"/>
<line x1="21.0" y1="277.80" x2="361.0" y2="277.80"/>
<line x1="33.90" y1="273.0" x2="33.90" y2="373.0"/>
<line x1="47.42" y1="273.0" x2="47.42" y2="373.0"/>
<line x1="60.93" y1="273.0" x2="60.93" y2="373.0"/>
<line x1="74.45" y1="273.0" x2="74.45" y2="373.0"/>
<line x1="87.97" y1="273.0" x2="87.97" y2="373.0"/>
<line x1="101.49" y1="273.0" x2="101.49" y2="373.0"/>
<line x1="115.00" y1="273.0" x2="115.00" y2="373.0"/>
<line x1="128.52" y1="273.0" x2="128.52" y2="373.0"/>
<line x1="142.04" y1="273.0" x2="142.04" y2="373.0"/>
<line x1="155.56" y1="273.0" x2="155.56" y2="373.0"/>
<line x1="169.07" y1="273.0" x2="169.07" y2="373.0"/>
<line x1="182.59" y1="273.0" x2="182.59" y2="373.0"/>
<line x1="196.11" y1="273.0" x2="196.11" y2="373.0"/>
<line x1="209.63" y1="273.0" x2="209.63" y2="373.0"/>
<line x1="223.14" y1="273.0" x2="223.14" y2="373.0"/>
<line x1="236.66" y1="273.0" x2="236.66" y2="373.0"/>
<line x1="250.18" y1="273.0" x2="250.18" y2="373.0"/>
<line x1="263.70" y1="273.0" x2="263.70" y2="373.0"/>
<line x1="277.21" y1="273.0" x2="277.21" y2="373.0"/>
<line x1="290.73" y1="273.0" x2="290.73" y2="373.0"/>
<line x1="304.25" y1="273.0" x2="304.25" y2="373.0"/>
<line x1="317.77" y1="273.0" x2="317.77" y2="373.0"/>
<line x1="331.28" y1="273.0" x2="331.28" y2="373.0"/>
<line x1="344.80" y1="273.0" x2="344.80" y2="373.0"/>
</g>
<line x1="30.70" y1="368.80" x2="30.70" y2="368.60" stroke="#eed2a0" stroke-width="0.6"/>
<line x1="30.70" y1="368.30" x2="30.70" y2="368.10" stroke="#eed2a0" stroke-width="0.6"/>
<rect x="28.20" y="368.30" width="5.00" height="0.60" rx="0.8" fill="#fde3a8" stroke="#f5cb78" stroke-width="0.5"/>
<line x1="28.20" y1="368.50" x2="33.20" y2="368.50" stroke="#f0c677" stroke-width="0.5"/>
<line x1="37.10" y1="368.80" x2="37.10" y2="368.70" stroke="#3a7fbf" stroke-width="0.6"/>
<line x1="37.10" y1="368.30" x2="37.10" y2="368.10" stroke="#3a7fbf" stroke-width="0.6"/>
<rect x="34.60" y="368.30" width="5.00" height="0.60" rx="0.8" fill="#70b2e1" stroke="#3a86c6" stroke-width="0.5"/>
<line x1="34.60" y1="368.50" x2="39.60" y2="368.50" stroke="#2f70ae" stroke-width="0.5"/>
<line x1="44.22" y1="368.80" x2="44.22" y2="368.20" stroke="#eed2a0" stroke-width="0.6"/>
<line x1="44.22" y1="365.40" x2="44.22" y2="363.60" stroke="#eed2a0" stroke-width="0.6"/>
<rect x="41.72" y="365.40" width="5.00" height="2.80" rx="0.8" fill="#fde3a8" stroke="#f5cb78" stroke-width="0.5"/>
<line x1="41.72" y1="367.40" x2="46.72" y2="367.40" stroke="#f0c677" stroke-width="0.5"/>
<line x1="43.02" y1="363.60" x2="45.42" y2="363.60" stroke="#eed2a0" stroke-width="0.5"/>
<line x1="50.62" y1="368.80" x2="50.62" y2="368.50" stroke="#3a7fbf" stroke-width="0.6"/>
<line x1="50.62" y1="367.60" x2="50.62" y2="367.00" stroke="#3a7fbf" stroke-width="0.6"/>
<rect x="48.12" y="367.60" width="5.00" height="0.90" rx="0.8" fill="#70b2e1" stroke="#3a86c6" stroke-width="0.5"/>
<line x1="48.12" y1="368.00" x2="53.12" y2="368.00" stroke="#2f70ae" stroke-width="0.5"/>
<line x1="57.73" y1="368.80" x2="57.73" y2="368.30" stroke="#eed2a0" stroke-width="0.6"/>
<line x1="57.73" y1="366.00" x2="57.73" y2="364.50" stroke="#eed2a0" stroke-width="0.6"/>
<rect x="55.23" y="366.00" width="5.00" height="2.30" rx="0.8" fill="#fde3a8" stroke="#f5cb78" stroke-width="0.5"/>
<line x1="55.23" y1="367.80" x2="60.23" y2="367.80" stroke="#f0c677" stroke-width="0.5"/>
<line x1="64.13" y1="368.80" x2="64.13" y2="368.60" stroke="#3a7fbf" stroke-width="0.6"/>
<line x1="64.13" y1="368.00" x2="64.13" y2="367.60" stroke="#3a7fbf" stroke-width="0.6"/>
<rect x="61.63" y="368.00" width="5.00" height="0.60" rx="0.8" fill="#70b2e1" stroke="#3a86c6" stroke-width="0.5"/>
<line x1="61.63" y1="368.40" x2="66.63" y2="368.40" stroke="#2f70ae" stroke-width="0.5"/>
<line x1="71.25" y1="368.80" x2="71.25" y2="368.60" stroke="#eed2a0" stroke-width="0.6"/>
<line x1="71.25" y1="368.10" x2="71.25" y2="367.60" stroke="#eed2a0" stroke-width="0.6"/>
<rect x="68.75" y="368.10" width="5.00" height="0.60" rx="0.8" fill="#fde3a8" stroke="#f5cb78" stroke-width="0.5"/>
<line x1="68.75" y1="368.40" x2="73.75" y2="368.40" stroke="#f0c677" stroke-width="0.5"/>
<line x1="77.65" y1="368.80" x2="77.65" y2="368.70" stroke="#3a7fbf" stroke-width="0.6"/>
<line x1="77.65" y1="368.20" x2="77.65" y2="367.90" stroke="#3a7fbf" stroke-width="0.6"/>
<rect x="75.15" y="368.20" width="5.00" height="0.60" rx="0.8" fill="#70b2e1" stroke="#3a86c6" stroke-width="0.5"/>
<line x1="75.15" y1="368.50" x2="80.15" y2="368.50" stroke="#2f70ae" stroke-width="0.5"/>
<line x1="84.77" y1="368.80" x2="84.77" y2="368.70" stroke="#eed2a0" stroke-width="0.6"/>
<line x1="84.77" y1="368.30" x2="84.77" y2="368.00" stroke="#eed2a0" stroke-width="0.6"/>
<rect x="82.27" y="368.30" width="5.00" height="0.60" rx="0.8" fill="#fde3a8" stroke="#f5cb78" stroke-width="0.5"/>
<line x1="82.27" y1="368.50" x2="87.27" y2="368.50" stroke="#f0c677" stroke-width="0.5"/>
<line x1="91.17" y1="368.80" x2="91.17" y2="368.70" stroke="#3a7fbf" stroke-width="0.6"/>
<line x1="91.17" y1="368.30" x2="91.17" y2="368.00" stroke="#3a7fbf" stroke-width="0.6"/>
<rect x="88.67" y="368.30" width="5.00" height="0.60" rx="0.8" fill="#70b2e1" stroke="#3a86c6" stroke-width="0.5"/>
<line x1="88.67" y1="368.50" x2="93.67" y2="368.50" stroke="#2f70ae" stroke-width="0.5"/>
<line x1="98.29" y1="368.80" x2="98.29" y2="368.70" stroke="#eed2a0" stroke-width="0.6"/>
<line x1="98.29" y1="368.30" x2="98.29" y2="368.00" stroke="#eed2a0" stroke-width="0.6"/>
<rect x="95.79" y="368.30" width="5.00" height="0.60" rx="0.8" fill="#fde3a8" stroke="#f5cb78" stroke-width="0.5"/>
<line x1="95.79" y1="368.50" x2="100.79" y2="368.50" stroke="#f0c677" stroke-width="0.5"/>
<line x1="104.69" y1="368.80" x2="104.69" y2="368.70" stroke="#3a7fbf" stroke-width="0.6"/>
<line x1="104.69" y1="368.20" x2="104.69" y2="367.90" stroke="#3a7fbf" stroke-width="0.6"/>
<rect x="102.19" y="368.20" width="5.00" height="0.60" rx="0.8" fill="#70b2e1" stroke="#3a86c6" stroke-width="0.5"/>
<line x1="102.19" y1="368.50" x2="107.19" y2="368.50" stroke="#2f70ae" stroke-width="0.5"/>
<line x1="111.80" y1="368.80" x2="111.80" y2="368.70" stroke="#eed2a0" stroke-width="0.6"/>
<line x1="111.80" y1="368.30" x2="111.80" y2="368.00" stroke="#eed2a0" stroke-width="0.6"/>
<rect x="109.30" y="368.30" width="5.00" height="0.60" rx="0.8" fill="#fde3a8" stroke="#f5cb78" stroke-width="0.5"/>
<line x1="109.30" y1="368.50" x2="114.30" y2="368.50" stroke="#f0c677" stroke-width="0.5"/>
<line x1="118.20" y1="368.80" x2="118.20" y2="368.70" stroke="#3a7fbf" stroke-width="0.6"/>
<line x1="118.20" y1="368.20" x2="118.20" y2="367.90" stroke="#3a7fbf" stroke-width="0.6"/>
<rect x="115.70" y="368.20" width="5.00" height="0.60" rx="0.8" fill="#70b2e1" stroke="#3a86c6" stroke-width="0.5"/>
<line x1="115.70" y1="368.50" x2="120.70" y2="368.50" stroke="#2f70ae" stroke-width="0.5"/>
<line x1="125.32" y1="368.80" x2="125.32" y2="368.70" stroke="#eed2a0" stroke-width="0.6"/>
<line x1="125.32" y1="368.30" x2="125.32" y2="368.00" stroke="#eed2a0" stroke-width="0.6"/>
<rect x="122.82" y="368.30" width="5.00" height="0.60" rx="0.8" fill="#fde3a8" stroke="#f5cb78" stroke-width="0.5"/>
<line x1="122.82" y1="368.50" x2="127.82" y2="368.50" stroke="#f0c677" stroke-width="0.5"/>
<line x1="131.72" y1="368.80" x2="131.72" y2="368.70" stroke="#3a7fbf" stroke-width="0.6"/>
<line x1="131.72" y1="368.10" x2="131.72" y2="367.70" stroke="#3a7fbf" stroke-width="0.6"/>
<rect x="129.22" y="368.10" width="5.00" height="0.60" rx="0.8" fill="#70b2e1" stroke="#3a86c6" stroke-width="0.5"/>
<line x1="129.22" y1="368.40" x2="134.22" y2="368.40" stroke="#2f70ae" stroke-width="0.5"/>
<line x1="138.84" y1="368.80" x2="138.84" y2="368.60" stroke="#eed2a0" stroke-width="0.6"/>
<line x1="138.84" y1="367.80" x2="138.84" y2="367.00" stroke="#eed2a0" stroke-width="0.6"/>
<rect x="136.34" y="367.80" width="5.00" height="0.80" rx="0.8" fill="#fde3a8" stroke="#f5cb78" stroke-width="0.5"/>
<line x1="136.34" y1="368.30" x2="141.34" y2="368.30" stroke="#f0c677" stroke-width="0.5"/>
<line x1="145.24" y1="368.80" x2="145.24" y2="368.60" stroke="#3a7fbf" stroke-width="0.6"/>
<line x1="145.24" y1="367.80" x2="145.24" y2="367.20" stroke="#3a7fbf" stroke-width="0.6"/>
<rect x="142.74" y="367.80" width="5.00" height="0.80" rx="0.8" fill="#70b2e1" stroke="#3a86c6" stroke-width="0.5"/>
<line x1="142.74" y1="368.30" x2="147.74" y2="368.30" stroke="#2f70ae" stroke-width="0.5"/>
<line x1="152.36" y1="368.80" x2="152.36" y2="368.70" stroke="#eed2a0" stroke-width="0.6"/>
<line x1="152.36" y1="368.30" x2="152.36" y2="368.00" stroke="#eed2a0" stroke-width="0.6"/>
<rect x="149.86" y="368.30" width="5.00" height="0.60" rx="0.8" fill="#fde3a8" stroke="#f5cb78" stroke-width="0.5"/>
<line x1="149.86" y1="368.50" x2="154.86" y2="368.50" stroke="#f0c677" stroke-width="0.5"/>
<line x1="158.76" y1="368.80" x2="158.76" y2="368.70" stroke="#3a7fbf" stroke-width="0.6"/>
<line x1="158.76" y1="368.10" x2="158.76" y2="367.70" stroke="#3a7fbf" stroke-width="0.6"/>
<rect x="156.26" y="368.10" width="5.00" height="0.60" rx="0.8" fill="#70b2e1" stroke="#3a86c6" stroke-width="0.5"/>
<line x1="156.26" y1="368.40" x2="161.26" y2="368.40" stroke="#2f70ae" stroke-width="0.5"/>
<line x1="165.87" y1="368.80" x2="165.87" y2="368.50" stroke="#eed2a0" stroke-width="0.6"/>
<line x1="165.87" y1="367.50" x2="165.87" y2="366.60" stroke="#eed2a0" stroke-width="0.6"/>
<rect x="163.37" y="367.50" width="5.00" height="1.00" rx="0.8" fill="#fde3a8" stroke="#f5cb78" stroke-width="0.5"/>
<line x1="163.37" y1="368.10" x2="168.37" y2="368.10" stroke="#f0c677" stroke-width="0.5"/>
<line x1="172.27" y1="368.80" x2="172.27" y2="368.70" stroke="#3a7fbf" stroke-width="0.6"/>
<line x1="172.27" y1="368.20" x2="172.27" y2="367.90" stroke="#3a7fbf" stroke-width="0.6"/>
<rect x="169.77" y="368.20" width="5.00" height="0.60" rx="0.8" fill="#70b2e1" stroke="#3a86c6" stroke-width="0.5"/>
<line x1="169.77" y1="368.50" x2="174.77" y2="368.50" stroke="#2f70ae" stroke-width="0.5"/>
<line x1="179.39" y1="368.80" x2="179.39" y2="368.70" stroke="#eed2a0" stroke-width="0.6"/>
<line x1="179.39" y1="368.30" x2="179.39" y2="368.00" stroke="#eed2a0" stroke-width="0.6"/>
<rect x="176.89" y="368.30" width="5.00" height="0.60" rx="0.8" fill="#fde3a8" stroke="#f5cb78" stroke-width="0.5"/>
<line x1="176.89" y1="368.50" x2="181.89" y2="368.50" stroke="#f0c677" stroke-width="0.5"/>
<line x1="185.79" y1="368.80" x2="185.79" y2="368.70" stroke="#3a7fbf" stroke-width="0.6"/>
<line x1="185.79" y1="368.20" x2="185.79" y2="367.90" stroke="#3a7fbf" stroke-width="0.6"/>
<rect x="183.29" y="368.20" width="5.00" height="0.60" rx="0.8" fill="#70b2e1" stroke="#3a86c6" stroke-width="0.5"/>
<line x1="183.29" y1="368.50" x2="188.29" y2="368.50" stroke="#2f70ae" stroke-width="0.5"/>
<line x1="192.91" y1="368.80" x2="192.91" y2="368.70" stroke="#eed2a0" stroke-width="0.6"/>
<line x1="192.91" y1="368.30" x2="192.91" y2="368.00" stroke="#eed2a0" stroke-width="0.6"/>
<rect x="190.41" y="368.30" width="5.00" height="0.60" rx="0.8" fill="#fde3a8" stroke="#f5cb78" stroke-width="0.5"/>
<line x1="190.41" y1="368.50" x2="195.41" y2="368.50" stroke="#f0c677" stroke-width="0.5"/>
<line x1="199.31" y1="368.80" x2="199.31" y2="368.70" stroke="#3a7fbf" stroke-width="0.6"/>
<line x1="199.31" y1="368.20" x2="199.31" y2="367.90" stroke="#3a7fbf" stroke-width="0.6"/>
<rect x="196.81" y="368.20" width="5.00" height="0.60" rx="0.8" fill="#70b2e1" stroke="#3a86c6" stroke-width="0.5"/>
<line x1="196.81" y1="368.50" x2="201.81" y2="368.50" stroke="#2f70ae" stroke-width="0.5"/>
<line x1="206.43" y1="368.50" x2="206.43" y2="353.80" stroke="#eed2a0" stroke-width="0.6"/>
<line x1="206.43" y1="341.00" x2="206.43" y2="325.60" stroke="#eed2a0" stroke-width="0.6"/>
<rect x="203.93" y="341.00" width="5.00" height="12.80" rx="0.8" fill="#fde3a8" stroke="#f5cb78" stroke-width="0.5"/>
<line x1="203.93" y1="348.00" x2="208.93" y2="348.00" stroke="#f0c677" stroke-width="0.5"/>
<line x1="205.23" y1="325.60" x2="207.63" y2="325.60" stroke="#eed2a0" stroke-width="0.5"/>
<line x1="205.23" y1="368.50" x2="207.63" y2="368.50" stroke="#eed2a0" stroke-width="0.5"/>
<line x1="212.83" y1="352.30" x2="212.83" y2="345.50" stroke="#3a7fbf" stroke-width="0.6"/>
<line x1="212.83" y1="338.50" x2="212.83" y2="326.80" stroke="#3a7fbf" stroke-width="0.6"/>
<rect x="210.33" y="338.50" width="5.00" height="7.00" rx="0.8" fill="#70b2e1" stroke="#3a86c6" stroke-width="0.5"/>
<line x1="210.33" y1="341.40" x2="215.33" y2="341.40" stroke="#2f70ae" stroke-width="0.5"/>
<line x1="211.63" y1="326.80" x2="214.03" y2="326.80" stroke="#3a7fbf" stroke-width="0.5"/>
<line x1="211.63" y1="352.30" x2="214.03" y2="352.30" stroke="#3a7fbf" stroke-width="0.5"/>
<line x1="219.94" y1="368.80" x2="219.94" y2="368.70" stroke="#eed2a0" stroke-width="0.6"/>
<line x1="219.94" y1="368.20" x2="219.94" y2="367.80" stroke="#eed2a0" stroke-width="0.6"/>
<rect x="217.44" y="368.20" width="5.00" height="0.60" rx="0.8" fill="#fde3a8" stroke="#f5cb78" stroke-width="0.5"/>
<line x1="217.44" y1="368.50" x2="222.44" y2="368.50" stroke="#f0c677" stroke-width="0.5"/>
<line x1="226.34" y1="368.80" x2="226.34" y2="368.70" stroke="#3a7fbf" stroke-width="0.6"/>
<line x1="226.34" y1="368.20" x2="226.34" y2="367.90" stroke="#3a7fbf" stroke-width="0.6"/>
<rect x="223.84" y="368.20" width="5.00" height="0.60" rx="0.8" fill="#70b2e1" stroke="#3a86c6" stroke-width="0.5"/>
<line x1="223.84" y1="368.50" x2="228.84" y2="368.50" stroke="#2f70ae" stroke-width="0.5"/>
<line x1="233.46" y1="360.60" x2="233.46" y2="347.00" stroke="#eed2a0" stroke-width="0.6"/>
<line x1="233.46" y1="328.30" x2="233.46" y2="312.00" stroke="#eed2a0" stroke-width="0.6"/>
<rect x="230.96" y="328.30" width="5.00" height="18.70" rx="0.8" fill="#fde3a8" stroke="#f5cb78" stroke-width="0.5"/>
<line x1="230.96" y1="339.00" x2="235.96" y2="339.00" stroke="#f0c677" stroke-width="0.5"/>
<line x1="232.26" y1="312.00" x2="234.66" y2="312.00" stroke="#eed2a0" stroke-width="0.5"/>
<line x1="232.26" y1="360.60" x2="234.66" y2="360.60" stroke="#eed2a0" stroke-width="0.5"/>
<line x1="239.86" y1="348.20" x2="239.86" y2="336.50" stroke="#3a7fbf" stroke-width="0.6"/>
<line x1="239.86" y1="332.40" x2="239.86" y2="326.80" stroke="#3a7fbf" stroke-width="0.6"/>
<rect x="237.36" y="332.40" width="5.00" height="4.10" rx="0.8" fill="#70b2e1" stroke="#3a86c6" stroke-width="0.5"/>
<line x1="237.36" y1="334.20" x2="242.36" y2="334.20" stroke="#2f70ae" stroke-width="0.5"/>
<line x1="238.66" y1="326.80" x2="241.06" y2="326.80" stroke="#3a7fbf" stroke-width="0.5"/>
<line x1="238.66" y1="348.20" x2="241.06" y2="348.20" stroke="#3a7fbf" stroke-width="0.5"/>
<line x1="246.98" y1="320.80" x2="246.98" y2="314.30" stroke="#eed2a0" stroke-width="0.6"/>
<line x1="246.98" y1="299.70" x2="246.98" y2="288.20" stroke="#eed2a0" stroke-width="0.6"/>
<rect x="244.48" y="299.70" width="5.00" height="14.60" rx="0.8" fill="#fde3a8" stroke="#f5cb78" stroke-width="0.5"/>
<line x1="244.48" y1="306.80" x2="249.48" y2="306.80" stroke="#f0c677" stroke-width="0.5"/>
<line x1="245.78" y1="288.20" x2="248.18" y2="288.20" stroke="#eed2a0" stroke-width="0.5"/>
<line x1="245.78" y1="320.80" x2="248.18" y2="320.80" stroke="#eed2a0" stroke-width="0.5"/>
<line x1="253.38" y1="331.90" x2="253.38" y2="331.90" stroke="#3a7fbf" stroke-width="0.6"/>
<line x1="253.38" y1="301.30" x2="253.38" y2="301.30" stroke="#3a7fbf" stroke-width="0.6"/>
<rect x="250.88" y="301.30" width="5.00" height="30.60" rx="0.8" fill="#70b2e1" stroke="#3a86c6" stroke-width="0.5"/>
<line x1="250.88" y1="310.10" x2="255.88" y2="310.10" stroke="#2f70ae" stroke-width="0.5"/>
<line x1="260.50" y1="367.40" x2="260.50" y2="356.80" stroke="#eed2a0" stroke-width="0.6"/>
<line x1="260.50" y1="338.00" x2="260.50" y2="326.80" stroke="#eed2a0" stroke-width="0.6"/>
<rect x="258.00" y="338.00" width="5.00" height="18.80" rx="0.8" fill="#fde3a8" stroke="#f5cb78" stroke-width="0.5"/>
<line x1="258.00" y1="342.60" x2="263.00" y2="342.60" stroke="#f0c677" stroke-width="0.5"/>
<line x1="259.30" y1="326.80" x2="261.70" y2="326.80" stroke="#eed2a0" stroke-width="0.5"/>
<line x1="259.30" y1="367.40" x2="261.70" y2="367.40" stroke="#eed2a0" stroke-width="0.5"/>
<line x1="266.90" y1="354.50" x2="266.90" y2="338.70" stroke="#3a7fbf" stroke-width="0.6"/>
<line x1="266.90" y1="326.30" x2="266.90" y2="318.40" stroke="#3a7fbf" stroke-width="0.6"/>
<rect x="264.40" y="326.30" width="5.00" height="12.40" rx="0.8" fill="#70b2e1" stroke="#3a86c6" stroke-width="0.5"/>
<line x1="264.40" y1="330.00" x2="269.40" y2="330.00" stroke="#2f70ae" stroke-width="0.5"/>
<line x1="265.70" y1="318.40" x2="268.10" y2="318.40" stroke="#3a7fbf" stroke-width="0.5"/>
<line x1="265.70" y1="354.50" x2="268.10" y2="354.50" stroke="#3a7fbf" stroke-width="0.5"/>
<line x1="274.01" y1="368.50" x2="274.01" y2="348.90" stroke="#eed2a0" stroke-width="0.6"/>
<line x1="274.01" y1="339.20" x2="274.01" y2="317.70" stroke="#eed2a0" stroke-width="0.6"/>
<rect x="271.51" y="339.20" width="5.00" height="9.70" rx="0.8" fill="#fde3a8" stroke="#f5cb78" stroke-width="0.5"/>
<line x1="271.51" y1="344.00" x2="276.51" y2="344.00" stroke="#f0c677" stroke-width="0.5"/>
<line x1="272.81" y1="317.70" x2="275.21" y2="317.70" stroke="#eed2a0" stroke-width="0.5"/>
<line x1="272.81" y1="368.50" x2="275.21" y2="368.50" stroke="#eed2a0" stroke-width="0.5"/>
<line x1="280.41" y1="331.30" x2="280.41" y2="326.30" stroke="#3a7fbf" stroke-width="0.6"/>
<line x1="280.41" y1="321.60" x2="280.41" y2="320.00" stroke="#3a7fbf" stroke-width="0.6"/>
<rect x="277.91" y="321.60" width="5.00" height="4.70" rx="0.8" fill="#70b2e1" stroke="#3a86c6" stroke-width="0.5"/>
<line x1="277.91" y1="324.00" x2="282.91" y2="324.00" stroke="#2f70ae" stroke-width="0.5"/>
<line x1="279.21" y1="320.00" x2="281.61" y2="320.00" stroke="#3a7fbf" stroke-width="0.5"/>
<line x1="279.21" y1="331.30" x2="281.61" y2="331.30" stroke="#3a7fbf" stroke-width="0.5"/>
<line x1="287.53" y1="366.70" x2="287.53" y2="356.80" stroke="#eed2a0" stroke-width="0.6"/>
<line x1="287.53" y1="344.10" x2="287.53" y2="336.50" stroke="#eed2a0" stroke-width="0.6"/>
<rect x="285.03" y="344.10" width="5.00" height="12.70" rx="0.8" fill="#fde3a8" stroke="#f5cb78" stroke-width="0.5"/>
<line x1="285.03" y1="350.50" x2="290.03" y2="350.50" stroke="#f0c677" stroke-width="0.5"/>
<line x1="286.33" y1="336.50" x2="288.73" y2="336.50" stroke="#eed2a0" stroke-width="0.5"/>
<line x1="286.33" y1="366.70" x2="288.73" y2="366.70" stroke="#eed2a0" stroke-width="0.5"/>
<line x1="293.93" y1="361.30" x2="293.93" y2="360.00" stroke="#3a7fbf" stroke-width="0.6"/>
<line x1="293.93" y1="342.60" x2="293.93" y2="339.60" stroke="#3a7fbf" stroke-width="0.6"/>
<rect x="291.43" y="342.60" width="5.00" height="17.40" rx="0.8" fill="#70b2e1" stroke="#3a86c6" stroke-width="0.5"/>
<line x1="291.43" y1="354.50" x2="296.43" y2="354.50" stroke="#2f70ae" stroke-width="0.5"/>
<line x1="292.73" y1="339.60" x2="295.13" y2="339.60" stroke="#3a7fbf" stroke-width="0.5"/>
<line x1="301.05" y1="344.80" x2="301.05" y2="335.10" stroke="#eed2a0" stroke-width="0.6"/>
<line x1="301.05" y1="323.40" x2="301.05" y2="314.30" stroke="#eed2a0" stroke-width="0.6"/>
<rect x="298.55" y="323.40" width="5.00" height="11.70" rx="0.8" fill="#fde3a8" stroke="#f5cb78" stroke-width="0.5"/>
<line x1="298.55" y1="329.00" x2="303.55" y2="329.00" stroke="#f0c677" stroke-width="0.5"/>
<line x1="299.85" y1="314.30" x2="302.25" y2="314.30" stroke="#eed2a0" stroke-width="0.5"/>
<line x1="299.85" y1="344.80" x2="302.25" y2="344.80" stroke="#eed2a0" stroke-width="0.5"/>
<line x1="307.45" y1="359.00" x2="307.45" y2="357.70" stroke="#3a7fbf" stroke-width="0.6"/>
<line x1="307.45" y1="339.60" x2="307.45" y2="322.20" stroke="#3a7fbf" stroke-width="0.6"/>
<rect x="304.95" y="339.60" width="5.00" height="18.10" rx="0.8" fill="#70b2e1" stroke="#3a86c6" stroke-width="0.5"/>
<line x1="304.95" y1="348.00" x2="309.95" y2="348.00" stroke="#2f70ae" stroke-width="0.5"/>
<line x1="306.25" y1="322.20" x2="308.65" y2="322.20" stroke="#3a7fbf" stroke-width="0.5"/>
<line x1="314.57" y1="352.70" x2="314.57" y2="338.00" stroke="#eed2a0" stroke-width="0.6"/>
<line x1="314.57" y1="326.00" x2="314.57" y2="307.60" stroke="#eed2a0" stroke-width="0.6"/>
<rect x="312.07" y="326.00" width="5.00" height="12.00" rx="0.8" fill="#fde3a8" stroke="#f5cb78" stroke-width="0.5"/>
<line x1="312.07" y1="332.90" x2="317.07" y2="332.90" stroke="#f0c677" stroke-width="0.5"/>
<line x1="313.37" y1="307.60" x2="315.77" y2="307.60" stroke="#eed2a0" stroke-width="0.5"/>
<line x1="313.37" y1="352.70" x2="315.77" y2="352.70" stroke="#eed2a0" stroke-width="0.5"/>
<line x1="320.97" y1="348.20" x2="320.97" y2="336.90" stroke="#3a7fbf" stroke-width="0.6"/>
<line x1="320.97" y1="322.90" x2="320.97" y2="318.40" stroke="#3a7fbf" stroke-width="0.6"/>
<rect x="318.47" y="322.90" width="5.00" height="14.00" rx="0.8" fill="#70b2e1" stroke="#3a86c6" stroke-width="0.5"/>
<line x1="318.47" y1="327.90" x2="323.47" y2="327.90" stroke="#2f70ae" stroke-width="0.5"/>
<line x1="319.77" y1="318.40" x2="322.17" y2="318.40" stroke="#3a7fbf" stroke-width="0.5"/>
<line x1="319.77" y1="348.20" x2="322.17" y2="348.20" stroke="#3a7fbf" stroke-width="0.5"/>
<line x1="328.08" y1="365.10" x2="328.08" y2="357.70" stroke="#eed2a0" stroke-width="0.6"/>
<line x1="328.08" y1="344.80" x2="328.08" y2="331.30" stroke="#eed2a0" stroke-width="0.6"/>
<rect x="325.58" y="344.80" width="5.00" height="12.90" rx="0.8" fill="#fde3a8" stroke="#f5cb78" stroke-width="0.5"/>
<line x1="325.58" y1="348.70" x2="330.58" y2="348.70" stroke="#f0c677" stroke-width="0.5"/>
<line x1="326.88" y1="331.30" x2="329.28" y2="331.30" stroke="#eed2a0" stroke-width="0.5"/>
<line x1="326.88" y1="365.10" x2="329.28" y2="365.10" stroke="#eed2a0" stroke-width="0.5"/>
<line x1="334.48" y1="361.30" x2="334.48" y2="360.00" stroke="#3a7fbf" stroke-width="0.6"/>
<line x1="334.48" y1="351.60" x2="334.48" y2="338.00" stroke="#3a7fbf" stroke-width="0.6"/>
<rect x="331.98" y="351.60" width="5.00" height="8.40" rx="0.8" fill="#70b2e1" stroke="#3a86c6" stroke-width="0.5"/>
<line x1="331.98" y1="356.10" x2="336.98" y2="356.10" stroke="#2f70ae" stroke-width="0.5"/>
<line x1="333.28" y1="338.00" x2="335.68" y2="338.00" stroke="#3a7fbf" stroke-width="0.5"/>
<line x1="341.60" y1="368.50" x2="341.60" y2="347.80" stroke="#eed2a0" stroke-width="0.6"/>
<line x1="341.60" y1="329.70" x2="341.60" y2="320.00" stroke="#eed2a0" stroke-width="0.6"/>
<rect x="339.10" y="329.70" width="5.00" height="18.10" rx="0.8" fill="#fde3a8" stroke="#f5cb78" stroke-width="0.5"/>
<line x1="339.10" y1="338.00" x2="344.10" y2="338.00" stroke="#f0c677" stroke-width="0.5"/>
<line x1="340.40" y1="320.00" x2="342.80" y2="320.00" stroke="#eed2a0" stroke-width="0.5"/>
<line x1="340.40" y1="368.50" x2="342.80" y2="368.50" stroke="#eed2a0" stroke-width="0.5"/>
<line x1="348.00" y1="359.50" x2="348.00" y2="356.80" stroke="#3a7fbf" stroke-width="0.6"/>
<line x1="348.00" y1="349.30" x2="348.00" y2="344.10" stroke="#3a7fbf" stroke-width="0.6"/>
<rect x="345.50" y="349.30" width="5.00" height="7.50" rx="0.8" fill="#70b2e1" stroke="#3a86c6" stroke-width="0.5"/>
<line x1="345.50" y1="352.70" x2="350.50" y2="352.70" stroke="#2f70ae" stroke-width="0.5"/>
<line x1="346.80" y1="344.10" x2="349.20" y2="344.10" stroke="#3a7fbf" stroke-width="0.5"/>
<line x1="346.80" y1="359.50" x2="349.20" y2="359.50" stroke="#3a7fbf" stroke-width="0.5"/>
<circle cx="33.90" cy="279.6" r="0.95" fill="#bdbdbd"/>
<circle cx="47.42" cy="279.6" r="0.95" fill="#bdbdbd"/>
<circle cx="60.93" cy="277.9" r="1.05" fill="#444"/>
<circle cx="74.45" cy="279.6" r="0.95" fill="#bdbdbd"/>
<circle cx="87.97" cy="279.6" r="0.95" fill="#bdbdbd"/>
<circle cx="101.49" cy="279.6" r="0.95" fill="#bdbdbd"/>
<circle cx="115.00" cy="279.6" r="0.95" fill="#bdbdbd"/>
<circle cx="128.52" cy="279.6" r="0.95" fill="#bdbdbd"/>
<circle cx="142.04" cy="279.6" r="0.95" fill="#bdbdbd"/>
<circle cx="155.56" cy="279.6" r="0.95" fill="#bdbdbd"/>
<circle cx="169.07" cy="279.6" r="0.95" fill="#bdbdbd"/>
<circle cx="182.59" cy="279.6" r="0.95" fill="#bdbdbd"/>
<circle cx="196.11" cy="279.6" r="0.95" fill="#bdbdbd"/>
<circle cx="209.63" cy="279.6" r="0.95" fill="#bdbdbd"/>
<circle cx="223.14" cy="279.6" r="0.95" fill="#bdbdbd"/>
<circle cx="236.66" cy="279.6" r="0.95" fill="#bdbdbd"/>
<circle cx="250.18" cy="279.6" r="0.95" fill="#bdbdbd"/>
<circle cx="263.70" cy="279.6" r="0.95" fill="#bdbdbd"/>
<circle cx="277.21" cy="277.9" r="1.05" fill="#444"/>
<circle cx="290.73" cy="279.6" r="0.95" fill="#bdbdbd"/>
<circle cx="304.25" cy="279.6" r="0.95" fill="#bdbdbd"/>
<circle cx="317.77" cy="279.6" r="0.95" fill="#bdbdbd"/>
<circle cx="331.28" cy="279.6" r="0.95" fill="#bdbdbd"/>
<circle cx="344.80" cy="277.9" r="1.05" fill="#444"/>
<line x1="19.2" y1="273.1" x2="361.3" y2="273.1" stroke="#555" stroke-width="0.9"/>
<line x1="19.2" y1="373.4" x2="361.3" y2="373.4" stroke="#444" stroke-width="0.9"/>
<line x1="360.9" y1="273.1" x2="360.9" y2="373.4" stroke="#666" stroke-width="0.9"/>
<line x1="21.9" y1="273.1" x2="21.9" y2="373.4" stroke="#999" stroke-width="1.3"/>
<g stroke="#444" stroke-width="0.6">
<line x1="19.2" y1="368.40" x2="21.5" y2="368.40"/>
<line x1="19.2" y1="353.30" x2="21.5" y2="353.30"/>
<line x1="19.2" y1="338.20" x2="21.5" y2="338.20"/>
<line x1="19.2" y1="323.10" x2="21.5" y2="323.10"/>
<line x1="19.2" y1="308.00" x2="21.5" y2="308.00"/>
<line x1="19.2" y1="292.90" x2="21.5" y2="292.90"/>
<line x1="19.2" y1="277.80" x2="21.5" y2="277.80"/>
<line x1="33.90" y1="373.6" x2="33.90" y2="375.8"/>
<line x1="47.42" y1="373.6" x2="47.42" y2="375.8"/>
<line x1="60.93" y1="373.6" x2="60.93" y2="375.8"/>
<line x1="74.45" y1="373.6" x2="74.45" y2="375.8"/>
<line x1="87.97" y1="373.6" x2="87.97" y2="375.8"/>
<line x1="101.49" y1="373.6" x2="101.49" y2="375.8"/>
<line x1="115.00" y1="373.6" x2="115.00" y2="375.8"/>
<line x1="128.52" y1="373.6" x2="128.52" y2="375.8"/>
<line x1="142.04" y1="373.6" x2="142.04" y2="375.8"/>
<line x1="155.56" y1="373.6" x2="155.56" y2="375.8"/>
<line x1="169.07" y1="373.6" x2="169.07" y2="375.8"/>
<line x1="182.59" y1="373.6" x2="182.59" y2="375.8"/>
<line x1="196.11" y1="373.6" x2="196.11" y2="375.8"/>
<line x1="209.63" y1="373.6" x2="209.63" y2="375.8"/>
<line x1="223.14" y1="373.6" x2="223.14" y2="375.8"/>
<line x1="236.66" y1="373.6" x2="236.66" y2="375.8"/>
<line x1="250.18" y1="373.6" x2="250.18" y2="375.8"/>
<line x1="263.70" y1="373.6" x2="263.70" y2="375.8"/>
<line x1="277.21" y1="373.6" x2="277.21" y2="375.8"/>
<line x1="290.73" y1="373.6" x2="290.73" y2="375.8"/>
<line x1="304.25" y1="373.6" x2="304.25" y2="375.8"/>
<line x1="317.77" y1="373.6" x2="317.77" y2="375.8"/>
<line x1="331.28" y1="373.6" x2="331.28" y2="375.8"/>
<line x1="344.80" y1="373.6" x2="344.80" y2="375.8"/>
</g>
<text x="17.6" y="370.40" font-size="5.7" text-anchor="end" >0.00</text>
<text x="17.6" y="355.30" font-size="5.7" text-anchor="end" >0.05</text>
<text x="17.6" y="340.20" font-size="5.7" text-anchor="end" >0.10</text>
<text x="17.6" y="325.10" font-size="5.7" text-anchor="end" >0.15</text>
<text x="17.6" y="310.00" font-size="5.7" text-anchor="end" >0.20</text>
<text x="17.6" y="294.90" font-size="5.7" text-anchor="end" >0.25</text>
<text x="17.6" y="279.80" font-size="5.7" text-anchor="end" >0.30</text>
<text transform="translate(5.2,323.3) rotate(-90)" font-size="6" text-anchor="middle" >Expression</text>
<text transform="translate(36.80,378.50) rotate(-45)" font-size="5.9" text-anchor="end" >CD4 naive</text>
<text transform="translate(50.32,378.50) rotate(-45)" font-size="5.9" text-anchor="end" >CD8 naive</text>
<text transform="translate(63.83,378.50) rotate(-45)" font-size="5.9" text-anchor="end" >Tc</text>
<text transform="translate(77.35,378.50) rotate(-45)" font-size="5.9" text-anchor="end" >Tex</text>
<text transform="translate(90.87,378.50) rotate(-45)" font-size="5.9" text-anchor="end" >Tr1</text>
<text transform="translate(104.39,378.50) rotate(-45)" font-size="5.9" text-anchor="end" >nTreg</text>
<text transform="translate(117.90,378.50) rotate(-45)" font-size="5.9" text-anchor="end" >iTreg</text>
<text transform="translate(131.42,378.50) rotate(-45)" font-size="5.9" text-anchor="end" >Th1</text>
<text transform="translate(144.94,378.50) rotate(-45)" font-size="5.9" text-anchor="end" >Th2</text>
<text transform="translate(158.46,378.50) rotate(-45)" font-size="5.9" text-anchor="end" >Th17</text>
<text transform="translate(171.97,378.50) rotate(-45)" font-size="5.9" text-anchor="end" >Tfh</text>
<text transform="translate(185.49,378.50) rotate(-45)" font-size="5.9" text-anchor="end" >Tcm</text>
<text transform="translate(199.01,378.50) rotate(-45)" font-size="5.9" text-anchor="end" >Tem</text>
<text transform="translate(212.53,378.50) rotate(-45)" font-size="5.9" text-anchor="end" >NKT</text>
<text transform="translate(226.04,378.50) rotate(-45)" font-size="5.9" text-anchor="end" >MAIT</text>
<text transform="translate(239.56,378.50) rotate(-45)" font-size="5.9" text-anchor="end" >DC</text>
<text transform="translate(253.08,378.50) rotate(-45)" font-size="5.9" text-anchor="end" >B cell</text>
<text transform="translate(266.60,378.50) rotate(-45)" font-size="5.9" text-anchor="end" >Monocyte</text>
<text transform="translate(280.11,378.50) rotate(-45)" font-size="5.9" text-anchor="end" >Macrophage</text>
<text transform="translate(293.63,378.50) rotate(-45)" font-size="5.9" text-anchor="end" >NK</text>
<text transform="translate(307.15,378.50) rotate(-45)" font-size="5.9" text-anchor="end" >Neutrophil</text>
<text transform="translate(320.67,378.50) rotate(-45)" font-size="5.9" text-anchor="end" >Tgd</text>
<text transform="translate(334.18,378.50) rotate(-45)" font-size="5.9" text-anchor="end" >CD4 T</text>
<text transform="translate(347.70,378.50) rotate(-45)" font-size="5.9" text-anchor="end" >CD8 T</text>
<text x="365.7" y="278.2" font-size="5.6" >Group</text>
<rect x="365.2" y="282.4" width="5.3" height="5.3" rx="1.6" fill="#f2cd72"/>
<text x="370.8" y="287.2" font-size="5.5" >Ischemic HF</text>
<rect x="365.2" y="291.4" width="5.3" height="5.3" rx="1.9" fill="#1f6aa5"/>
<text x="370.8" y="296.1" font-size="5.6" >Control</text>
</svg></body></html>
